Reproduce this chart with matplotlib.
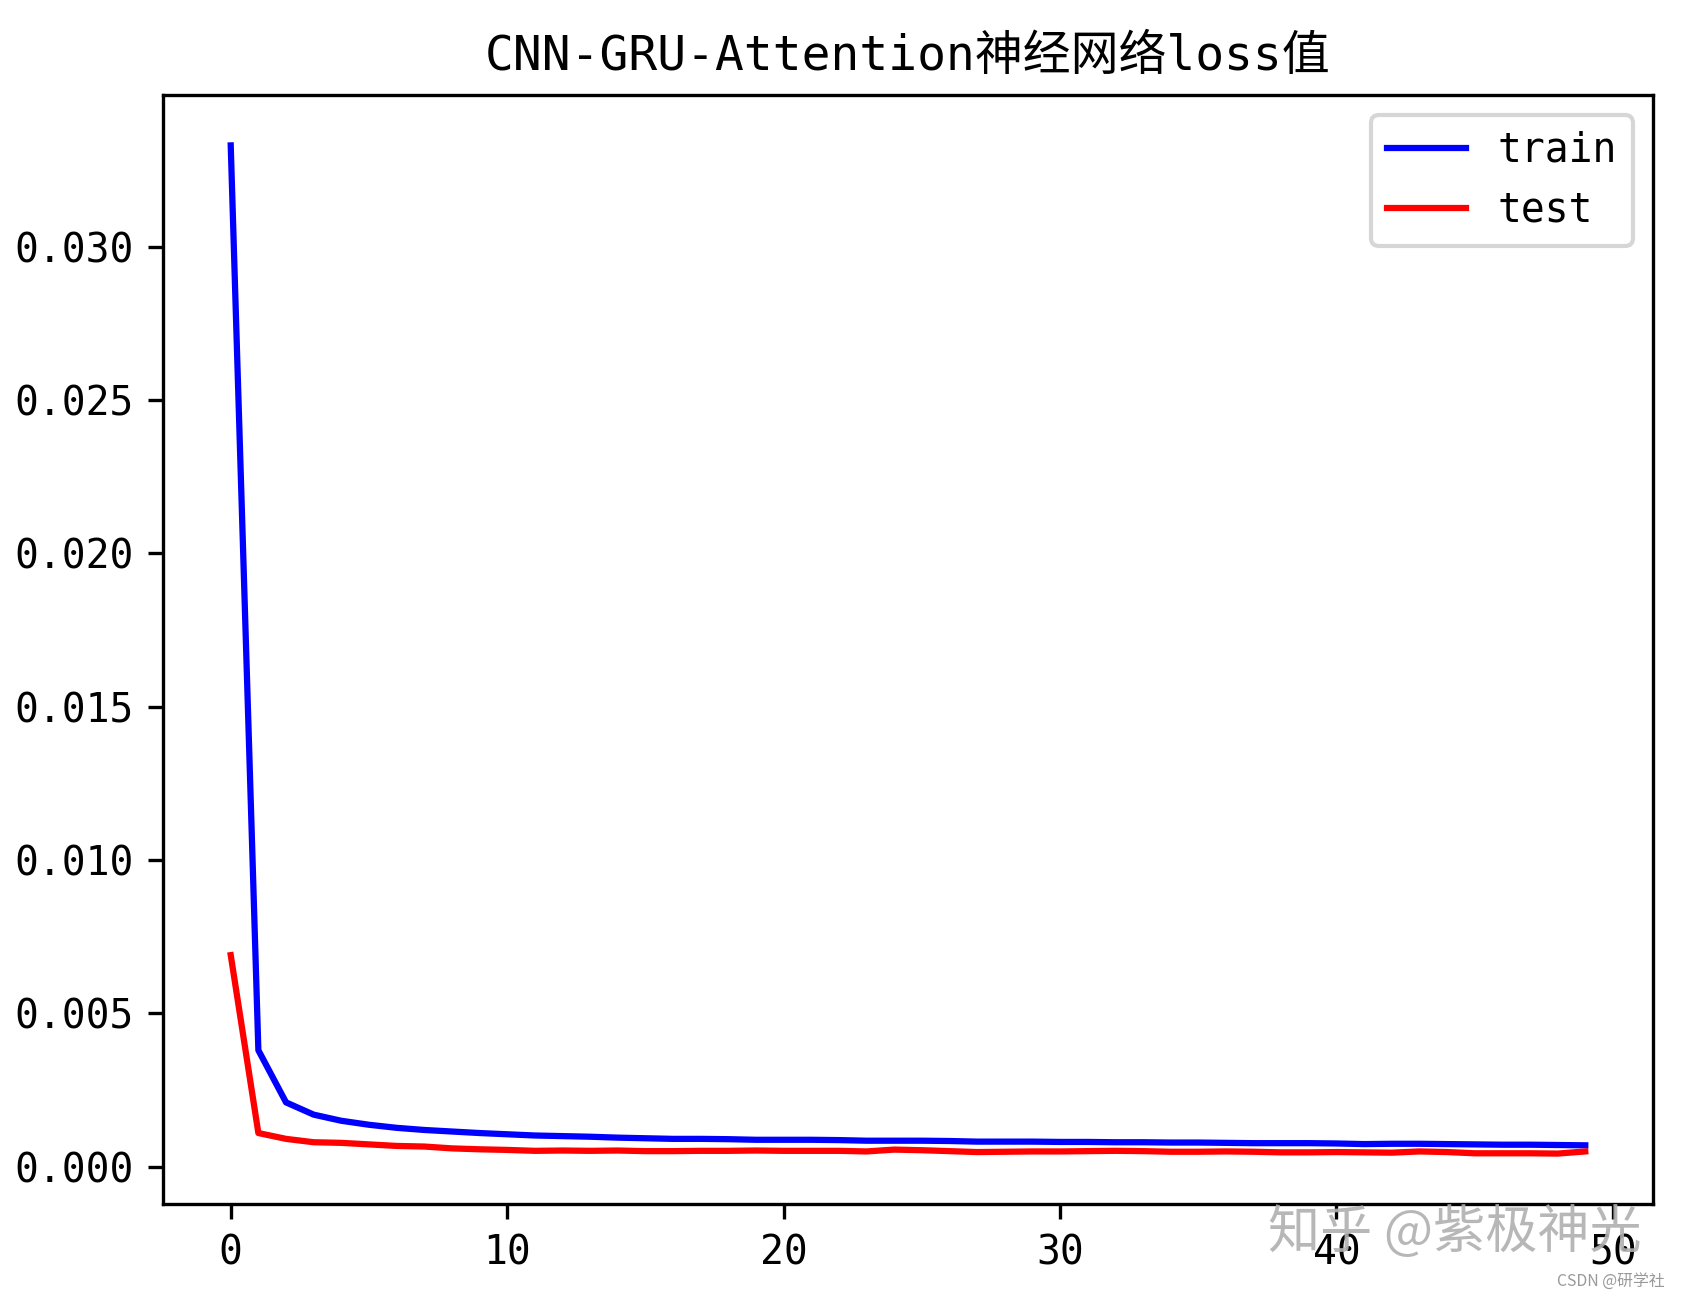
import matplotlib
matplotlib.use("Agg")
import matplotlib.pyplot as plt
import numpy as np

plt.rcParams['font.family'] = ['DejaVu Sans Mono', 'Noto Sans CJK SC']
plt.rcParams['axes.unicode_minus'] = False

epochs = list(range(50))
train_loss = [0.0333, 0.0038, 0.0021, 0.0017, 0.0015, 0.00137, 0.00127, 0.0012, 0.00115, 0.0011,
              0.00106, 0.00102, 0.00100, 0.00098, 0.00095, 0.00093, 0.00091, 0.00091, 0.00090, 0.00088,
              0.00088, 0.00088, 0.00087, 0.00085, 0.00085, 0.00085, 0.00084, 0.00082, 0.00082, 0.00082,
              0.00081, 0.00081, 0.00080, 0.00080, 0.00079, 0.00079, 0.00078, 0.00077, 0.00077, 0.00077,
              0.00076, 0.00074, 0.00075, 0.00075, 0.00074, 0.00073, 0.00072, 0.00072, 0.00071, 0.00070]
test_loss = [0.0069, 0.0011, 0.00091, 0.00080, 0.00078, 0.00073, 0.00068, 0.00066, 0.00060, 0.00057,
             0.00055, 0.00052, 0.00053, 0.00052, 0.00053, 0.00051, 0.00051, 0.00052, 0.00052, 0.00053,
             0.00052, 0.00052, 0.00052, 0.00050, 0.00056, 0.00054, 0.00051, 0.00048, 0.00049, 0.00050,
             0.00050, 0.00051, 0.00052, 0.00051, 0.00049, 0.00049, 0.00050, 0.00049, 0.00047, 0.00047,
             0.00048, 0.00047, 0.00046, 0.00050, 0.00048, 0.00044, 0.00044, 0.00044, 0.00043, 0.00050]

title = 'CNN-GRU-Attention神经网络loss值'

W, H, DPI = 1681, 1298, 300
fig = plt.figure(figsize=(W / DPI, H / DPI), dpi=DPI)
ax = fig.add_axes([163 / W, 1 - 1204 / H, (1653 - 163) / W, (1204 - 95) / H])

ax.plot(epochs, train_loss, color='blue', label='train')
ax.plot(epochs, test_loss, color='red', label='test')
ax.set_title(title, fontsize=11.5)
ax.tick_params(labelsize=9.5)
ax.legend(loc='upper right', fontsize=9.5)

# watermarks
fig.text(1455 / W, 1 - 1233 / H, '知乎 @紫极神光', fontsize=12.5, color='#b0b0b0',
         ha='center', va='center', family=['Noto Sans CJK SC', 'DejaVu Sans'], alpha=0.9)
fig.text(1665 / W, 1 - 1281 / H, 'CSDN @研学社', fontsize=3.8, color='#999999',
         ha='right', va='center', family=['Noto Sans CJK SC', 'DejaVu Sans'])

fig.savefig('out.png', dpi=DPI)
